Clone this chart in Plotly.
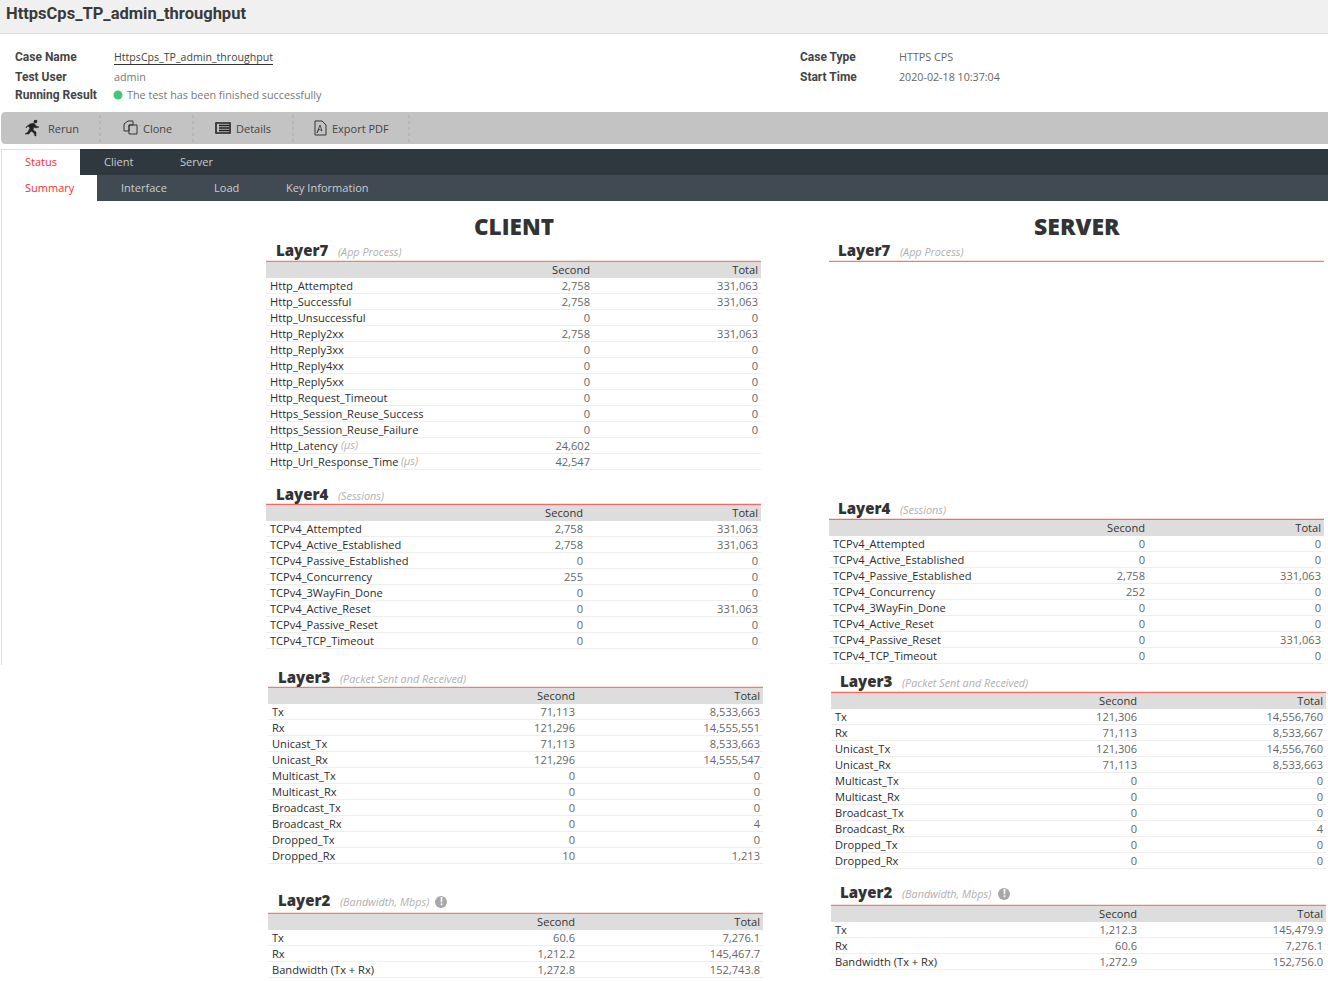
import plotly.graph_objects as go

# ---------- data ----------
CASE_NAME = "HttpsCps_TP_admin_throughput"
TOOLBAR_LABELS = ["Rerun", "Clone", "Details", "Export PDF"]
TOP_TABS = ["Status", "Client", "Server"]
SUB_TABS = ["Summary", "Interface", "Load", "Key Information"]

L7_NAMES = ["Http_Attempted", "Http_Successful", "Http_Unsuccessful", "Http_Reply2xx", "Http_Reply3xx",
            "Http_Reply4xx", "Http_Reply5xx", "Http_Request_Timeout", "Https_Session_Reuse_Success",
            "Https_Session_Reuse_Failure", "Http_Latency", "Http_Url_Response_Time"]
C_L7_SECOND = [2758, 2758, 0, 2758, 0, 0, 0, 0, 0, 0, 24602, 42547]
C_L7_TOTAL = [331063, 331063, 0, 331063, 0, 0, 0, 0, 0, 0, None, None]

L4_NAMES = ["TCPv4_Attempted", "TCPv4_Active_Established", "TCPv4_Passive_Established", "TCPv4_Concurrency",
            "TCPv4_3WayFin_Done", "TCPv4_Active_Reset", "TCPv4_Passive_Reset", "TCPv4_TCP_Timeout"]
C_L4_SECOND = [2758, 2758, 0, 255, 0, 0, 0, 0]
C_L4_TOTAL = [331063, 331063, 0, 0, 0, 331063, 0, 0]
S_L4_SECOND = [0, 0, 2758, 252, 0, 0, 0, 0]
S_L4_TOTAL = [0, 0, 331063, 0, 0, 0, 331063, 0]

L3_NAMES = ["Tx", "Rx", "Unicast_Tx", "Unicast_Rx", "Multicast_Tx", "Multicast_Rx",
            "Broadcast_Tx", "Broadcast_Rx", "Dropped_Tx", "Dropped_Rx"]
C_L3_SECOND = [71113, 121296, 71113, 121296, 0, 0, 0, 0, 0, 10]
C_L3_TOTAL = [8533663, 14555551, 8533663, 14555547, 0, 0, 0, 4, 0, 1213]
S_L3_SECOND = [121306, 71113, 121306, 71113, 0, 0, 0, 0, 0, 0]
S_L3_TOTAL = [14556760, 8533667, 14556760, 8533663, 0, 0, 0, 4, 0, 0]

L2_NAMES = ["Tx", "Rx", "Bandwidth\u00a0(Tx\u00a0+\u00a0Rx)"]
C_L2_SECOND = [60.6, 1212.2, 1272.8]
C_L2_TOTAL = [7276.1, 145467.7, 152743.8]
S_L2_SECOND = [1212.3, 60.6, 1272.9]
S_L2_TOTAL = [145479.9, 7276.1, 152756.0]

# ---------- page geometry (pixels) ----------
W, H = 1348, 981
ROW = 16
BODY = "Open Sans"
HEAD = "Roboto"
OFFSET = -4
FS = 11.1
SUB = 10.8

def px(x): return x / W
def py(y): return 1 - y / H

shapes, notes, traces = [], [], []

def rect(x0, y0, x1, y1, fill):
    shapes.append(dict(type="rect", xref="paper", yref="paper", x0=px(x0), x1=px(x1), y0=py(y0), y1=py(y1),
                       fillcolor=fill, line=dict(width=0), layer="below"))

def hline(x0, x1, y, color, width=1, dash="solid"):
    shapes.append(dict(type="line", xref="paper", yref="paper", x0=px(x0), x1=px(x1), y0=py(y), y1=py(y),
                       line=dict(color=color, width=width, dash=dash), layer="below"))

def vline(x, y0, y1, color, width=1, dash="solid"):
    shapes.append(dict(type="line", xref="paper", yref="paper", x0=px(x), x1=px(x), y0=py(y0), y1=py(y1),
                       line=dict(color=color, width=width, dash=dash), layer="below"))

def circle(cx, cy, r, fill):
    shapes.append(dict(type="circle", xref="paper", yref="paper", x0=px(cx - r), x1=px(cx + r), y0=py(cy + r),
                       y1=py(cy - r), fillcolor=fill, line=dict(width=0), layer="below"))

def path(points, color, fill=None, width=1.2, close=True):
    d = "M" + " L".join(f"{px(x):.5f},{py(y):.5f}" for x, y in points) + (" Z" if close else "")
    shapes.append(dict(type="path", xref="paper", yref="paper", path=d, fillcolor=fill or "rgba(0,0,0,0)",
                       line=dict(color=color, width=width), layer="above"))

def text(x, y, s, size=11, color="#333", font=HEAD, anchor="left", weight=None):
    f = dict(family=font, size=size, color=color)
    if weight:
        f["weight"] = weight
    notes.append(dict(xref="paper", yref="paper", x=px(x), y=py(y), text=s, showarrow=False, xanchor=anchor,
                      yanchor="middle", borderpad=0, borderwidth=0, font=f))

def fmt(v, dec=False):
    if v is None:
        return ""
    return f"{v:,.1f}" if dec else f"{v:,}"

def block(x0, line_y, title_y, title, sub, names, second, total, second_right, title_dx=10,
          rule="#ee7f78", dec=False, units=None, info_x=None):
    """One Layer panel: heading, rule, header band and a go.Table holding the rows."""
    x1 = x0 + 495
    text(x0 + title_dx, title_y - 1, title, 15, "#333", BODY, weight=800)
    text(x0 + title_dx + 62, title_y + 0.6, f"<i>{sub}</i>", SUB, "#b0b0b0", BODY)
    if info_x:
        circle(info_x, title_y + 1, 6, "#a8a8a8")
        text(info_x, title_y, "<b>!</b>", 10, "#ffffff", BODY, "center")
    if names:
        rect(x0, line_y + 0.5, x1, line_y + 1 + ROW, "#dcdddc")
    hline(x0, x1, line_y + 0.3, rule, 1.3)
    if not names:
        return
    n = len(names)
    top = line_y + 1
    for i in range(n):
        hline(x0, x1, top + ROW * (i + 2) - 0.5, "#eeeeee", 1)
    name_left, total_right = x0 + 4, x1 - 3
    tx0, tx1 = name_left - 8, total_right + 8
    traces.append(go.Table(
        domain=dict(x=[px(tx0), px(tx1)], y=[py(top + ROW * (n + 1) + OFFSET + 7), py(top + OFFSET)]),
        columnwidth=[second_right + 8 - tx0 - 100, 100, tx1 - second_right - 8],
        header=dict(values=["", "Second", "Total"], align=["left", "right", "right"], height=ROW,
                    fill=dict(color="rgba(0,0,0,0)"), line=dict(width=0, color="rgba(0,0,0,0)"),
                    font=dict(family=BODY, size=FS, color="#333")),
        cells=dict(values=[names, [fmt(v, dec) for v in second], [fmt(v, dec) for v in total]],
                   align=["left", "right", "right"], height=ROW,
                   fill=dict(color="rgba(0,0,0,0)"), line=dict(width=0, color="rgba(0,0,0,0)"),
                   font=dict(family=BODY, size=FS, color=["#2c2c2c", "#666", "#666"]))))
    if units:
        for idx, ux in units:
            text(ux, top + ROW * (idx + 1) + ROW / 2 - 1, "<i>(\u03bcs)</i>", SUB, "#b0b0b0", BODY)

# ---------- page chrome ----------
rect(0, 0, W, 33, "#f0f0f0")
hline(0, W, 33.5, "#dddddd", 1)
text(6, 13.6, f"<b>{CASE_NAME}</b>", 16.5, "#3a3a3a")

text(15, 56.6, "<b>Case Name</b>", 12, "#444")
text(15, 77.2, "<b>Test User</b>", 12, "#444")
text(15, 95.2, "<b>Running Result</b>", 12, "#444")
text(114, 56.5, CASE_NAME, 10.6, "#444", BODY)
hline(114, 273, 64.5, "#333333", 1)
text(114, 76.5, "admin", 10.8, "#777", BODY)
circle(118, 95, 4.5, "#3fc878")
text(127, 94.5, "The test has been finished successfully", 10.8, "#777", BODY)
text(800, 56.6, "<b>Case Type</b>", 12, "#444")
text(800, 77.2, "<b>Start Time</b>", 12, "#444")
text(899, 56.5, "HTTPS CPS", 10.8, "#666", BODY)
text(899, 77.2, "2020-02-18 10:37:04", 10.7, "#666", BODY)

# toolbar
shapes.append(dict(type="path", xref="paper", yref="paper", layer="below", fillcolor="#c3c3c3", line=dict(width=0),
                   path=f"M{px(6)},{py(112)} L{px(W)},{py(112)} L{px(W)},{py(144)} L{px(6)},{py(144)} "
                        f"Q{px(1)},{py(144)} {px(1)},{py(139)} L{px(1)},{py(117)} Q{px(1)},{py(112)} {px(6)},{py(112)} Z"))
for x in (100, 193, 293, 409):
    vline(x, 115, 142, "#a8a8a8", 1, "dot")
for x, label in zip((48, 143, 236, 332), TOOLBAR_LABELS):
    text(x, 128.5, label, 11, "#444", BODY)
# toolbar icons
path([(30, 124), (34, 123), (36, 126), (39, 127), (36, 128), (34, 127), (33, 130), (36, 132), (36, 136), (35, 136),
      (34, 133), (31, 131), (29, 134), (25, 134), (28, 132), (30, 128), (28, 126), (26, 128), (26, 127)],
     "#222", "#222", 0.5)
circle(35.5, 121.5, 1.8, "#222222")
path([(124, 124), (128, 121), (133, 121), (133, 125), (129, 125), (129, 131), (124, 131)], "#333", None, 1)
path([(129, 125), (137, 125), (137, 134), (129, 134)], "#333", None, 1)
path([(216, 123), (230, 123), (230, 133), (216, 133)], "#222", None, 1.6)
for yy in (125.5, 128, 130.5):
    hline(219, 229, yy, "#222222", 1.6)
path([(315, 121), (322, 121), (326, 125), (326, 135), (315, 135)], "#333", None, 1)
path([(317, 133), (320, 125), (322, 131), (319, 129), (317, 133)], "#333", None, 0.8)

# tabs
rect(80, 149, W, 175, "#30383f")
rect(97, 175, W, 201, "#414a52")
vline(1.5, 149, 665, "#dddddd", 1)
hline(1, 80, 149.5, "#dddddd", 1)
text(25, 161.5, "Status", 11, "#f03030", BODY)
text(25, 187.5, "Summary", 11, "#f03030", BODY)
for x, label in zip((104, 180), TOP_TABS[1:]):
    text(x, 161.5, label, 11, "#c8ccd0", BODY)
for x, label in zip((121, 214, 286), SUB_TABS[1:]):
    text(x, 187.5, label, 11.05, "#c8ccd0", BODY)

# ---------- panels ----------
text(514, 226, "CLIENT", 22.5, "#333", BODY, "center", 800)
text(1077, 226, "SERVER", 23, "#333", BODY, "center", 800)

block(266, 261, 251, "Layer7", "(App Process)", L7_NAMES, C_L7_SECOND, C_L7_TOTAL, 590,
      units=[(10, 341), (11, 401)])
block(266, 504, 495, "Layer4", "(Sessions)", L4_NAMES, C_L4_SECOND, C_L4_TOTAL, 583, rule="#f56a66")
block(268, 687, 678, "Layer3", "(Packet Sent and Received)", L3_NAMES, C_L3_SECOND, C_L3_TOTAL, 575)
block(268, 913, 901, "Layer2", "(Bandwidth, Mbps)", L2_NAMES, C_L2_SECOND, C_L2_TOTAL, 575, dec=True, info_x=441)

block(829, 261, 251, "Layer7", "(App Process)", [], [], [], 0, title_dx=9)
block(829, 519, 509, "Layer4", "(Sessions)", L4_NAMES, S_L4_SECOND, S_L4_TOTAL, 1145, title_dx=9, rule="#f56a66")
block(831, 692, 682, "Layer3", "(Packet Sent and Received)", L3_NAMES, S_L3_SECOND, S_L3_TOTAL, 1137, title_dx=9,
      rule="#f56a66")
block(831, 905, 893, "Layer2", "(Bandwidth, Mbps)", L2_NAMES, S_L2_SECOND, S_L2_TOTAL, 1137, title_dx=9, dec=True,
      info_x=1004)

fig = go.Figure(data=traces)
fig.update_layout(width=W, height=H, autosize=False, margin=dict(l=0, r=0, t=0, b=0, pad=0),
                  paper_bgcolor="#ffffff", plot_bgcolor="#ffffff", showlegend=False,
                  shapes=shapes, annotations=notes, font=dict(family=BODY, size=11))
fig.write_html("out.html", config=dict(displayModeBar=False),
               post_script="document.body.style.margin='0';document.body.style.overflow='hidden';"
                           "document.documentElement.style.overflow='hidden';")
